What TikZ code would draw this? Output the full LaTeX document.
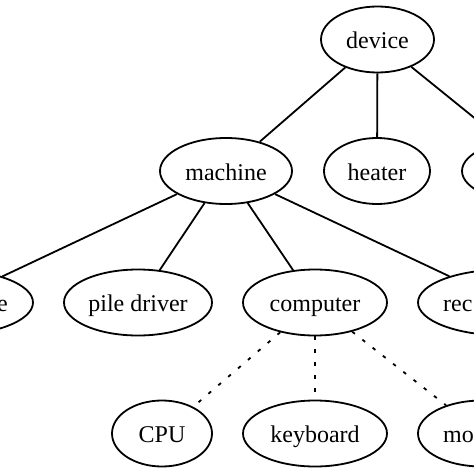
\documentclass[tikz,border=0pt]{standalone}
\usepackage{fontspec}
\setmainfont{Liberation Serif}
\usetikzlibrary{shapes.geometric,calc}
\begin{document}
\begin{tikzpicture}[x=1pt,y=-1pt,
  ell/.style={draw, ellipse, line width=1.8pt, inner sep=0pt, minimum height=66pt,
    font=\fontsize{24}{28}\selectfont, text height=21pt, text depth=3pt},
  txt/.style={inner sep=0pt, font=\fontsize{24}{28}\selectfont, text height=21pt, text depth=3pt},
  edge/.style={line width=1.8pt},
  dotedge/.style={line width=1.8pt, dash pattern=on 3.5pt off 9.5pt}]
\useasboundingbox (0,0) rectangle (474,474);
\fill[white] (0,0) rectangle (474,474);
\clip (0,0) rectangle (474,474);
\node[ell, minimum width=113pt] (device) at (377.5,39.5) {device};
\node[ell, minimum width=132pt] (machine) at (226,171) {machine};
\node[ell, minimum width=106pt] (heater) at (377,171) {heater};
\node[ell, minimum width=156pt] (other) at (540,171) {};
\node[ell, minimum width=172pt] (leftn) at (-53,302.5) {};
\node[txt, anchor=east] (leftt) at (8,302.5) {e};
\node[ell, minimum width=148pt] (pile) at (138,302.5) {pile driver};
\node[ell, minimum width=144pt] (computer) at (315,302.5) {computer};
\node[ell, minimum width=174pt] (rec) at (505,302.5) {};
\node[txt, anchor=west] (rect) at (443,302.5) {rec};
\node[ell, minimum width=100pt] (cpu) at (162,433.5) {CPU};
\node[ell, minimum width=144pt] (keyboard) at (315,433.5) {keyboard};
\node[ell, minimum width=128pt] (mo) at (482,433.5) {};
\node[txt, anchor=west] (mot) at (443,433.5) {mo};
\draw[edge] (device) -- (machine);
\draw[edge] (device) -- (heater);
\draw[edge] (device) -- (other);
\draw[edge] (machine) -- (leftn);
\draw[edge] (machine) -- (pile);
\draw[edge] (machine) -- (computer);
\draw[edge] (machine) -- (rec);
\draw[dotedge] (computer) -- (cpu);
\draw[dotedge] (computer) -- (keyboard);
\draw[dotedge] (computer) -- (mo);
\end{tikzpicture}
\end{document}
